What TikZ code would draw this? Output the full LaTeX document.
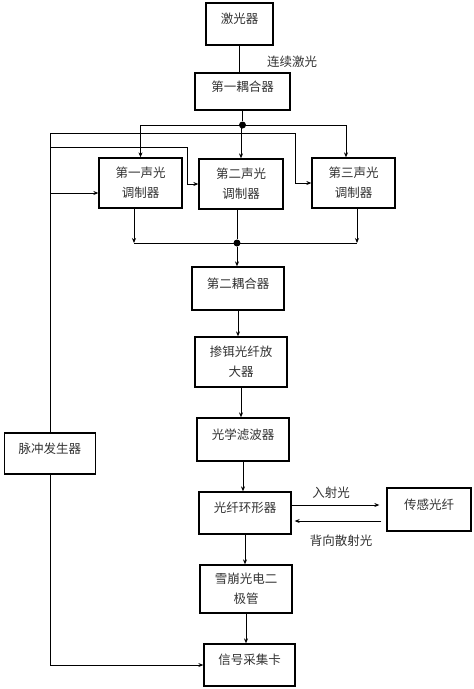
\documentclass[tikz,border=0pt]{standalone}
\usepackage{fontspec}
\setmainfont{Noto Sans CJK SC}
\usetikzlibrary{arrows.meta,positioning}
\tikzset{
  box/.style={draw, line width=1.3pt, minimum width=92pt, minimum height=42pt,
    align=center, inner sep=2pt, text=black!80},
  onerow/.style={text height=9pt, text depth=10pt},
  tworow/.style={minimum height=50pt},
  lbl/.style={inner sep=1pt, text=black!80},
  wire/.style={line width=0.8pt},
  arr/.style={wire, -{Stealth[length=5pt,width=4pt]}},
  dot/.style={circle, fill, inner sep=0pt, minimum size=7pt}
}
\begin{document}
\begin{tikzpicture}[x=1pt, y=-1pt, font=\fontsize{12.5}{20}\selectfont]
  \path[use as bounding box, fill=white] (0,0) rectangle (474,689);

  % main column
  \node[box,onerow,minimum width=67pt] (laser) at (239.5,24) {激光器};
  \node[box,onerow,minimum width=95pt,minimum height=37pt] (coupA) at (242.5,91.5) {第一耦合器};
  \node[box,tworow,minimum width=83pt] (aomA) at (140.5,183) {第一声光\\调制器};
  \node[box,tworow,minimum width=84pt] (aomB) at (241,184) {第二声光\\调制器};
  \node[box,tworow,minimum width=83pt] (aomC) at (353.5,183) {第三声光\\调制器};
  \node[box,onerow,minimum height=43pt] (coupB) at (238,288.5) {第二耦合器};
  \node[box,tworow] (edfa) at (241,362) {掺铒光纤放\\大器};
  \node[box,onerow,minimum height=43pt] (filter) at (243,439.5) {光学滤波器};
  \node[box,onerow] (circ) at (245,513) {光纤环形器};
  \node[box,tworow,minimum height=48pt] (apd) at (246,589) {雪崩光电二\\极管};
  \node[box,onerow,minimum width=91pt] (daq) at (249.5,665) {信号采集卡};
  % side boxes
  \node[box,onerow,minimum width=91pt,minimum height=41pt] (pulse) at (50,453.5) {脉冲发生器};
  \node[box,onerow,minimum width=84pt,minimum height=43pt] (fiber) at (429,509.5) {传感光纤};

  % labels
  \node[lbl] (cwLbl) at (292,62) {连续激光};
  \node[lbl] (incLbl) at (331,493) {入射光};
  \node[lbl] (backLbl) at (341,541) {背向散射光};

  % split into the three modulators
  \node[dot] (splitA) at (coupA.south |- 0,125) {};
  \coordinate (inC) at ([xshift=-7.5pt]aomC.north);
  \draw[wire] (laser.south) -- (laser.south |- coupA.north);
  \draw[wire] (coupA.south) -- (splitA);
  \draw[wire] (splitA -| aomA.north) -- (splitA -| inC);
  \foreach \t in {aomA.north, aomB.north, inC}
    \draw[arr] (splitA -| \t) -- (\t);

  % join into the second coupler
  \node[dot] (joinB) at (237,243) {};
  \coordinate (outA) at ([xshift=-6.5pt]aomA.south);
  \coordinate (outB) at ([xshift=-4pt]aomB.south);
  \coordinate (outC) at ([xshift=3.5pt]aomC.south);
  \draw[arr] (outA) -- (outA |- joinB);
  \draw[arr] (outC) -- (outC |- joinB);
  \draw[wire] (outB) -- (joinB);
  \draw[wire] (outA |- joinB) -- (outC |- joinB);
  \draw[arr] (joinB) -- (joinB |- coupB.north);

  % down the chain
  \draw[arr] (coupB.south) -- (coupB.south |- edfa.north);
  \draw[arr] (edfa.south) -- (edfa.south |- filter.north);
  \draw[arr] (filter.south) -- (filter.south |- circ.north);
  \draw[arr] (circ.south) -- (circ.south |- apd.north);
  \draw[arr] (apd.south) -- (apd.south |- daq.north);

  % circulator and sensing fibre
  \draw[arr, shorten >=7pt] (circ.east |- 0,505) -- (fiber.west |- 0,505);
  \draw[arr, shorten <=5pt, shorten >=3pt] (fiber.west |- 0,521) -- (circ.east |- 0,521);

  % pulse generator to the modulators and the card
  \coordinate (stubC) at ([xshift=-16pt]aomC.west);
  \coordinate (stubB) at ([xshift=-11pt]aomB.west);
  \coordinate (inA) at ([yshift=-10pt]aomA.west);
  \draw[wire] (pulse.north) -- (pulse.north |- 0,133);
  \draw[arr] (pulse.north |- 0,133) -| (stubC) -- (aomC.west);
  \draw[arr] (pulse.north |- 0,147) -| (stubB) -- (aomB.west);
  \draw[arr] (pulse.north |- inA) -- (inA);
  \draw[arr] (pulse.south) |- (daq.west);
\end{tikzpicture}
\end{document}
